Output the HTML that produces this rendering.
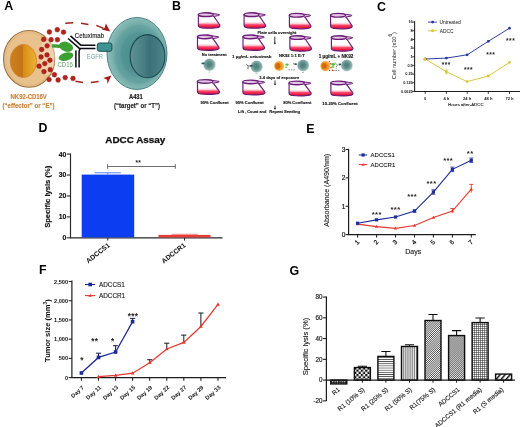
<!DOCTYPE html>
<html lang="en">
<head>
<meta charset="utf-8">
<title>Figure</title>
<style>
html,body{margin:0;padding:0;background:#fff;}
body{width:520px;height:427px;overflow:hidden;}
svg{display:block;font-family:"Liberation Sans", sans-serif;}
</style>
</head>
<body>
<svg width="520" height="427" viewBox="0 0 520 427" style='font-family:"Liberation Sans", sans-serif'>
<rect width="520" height="427" fill="#ffffff"/>
<g filter="url(#soft)">
<defs>
<filter id="soft" x="0" y="0" width="520" height="427" filterUnits="userSpaceOnUse"><feGaussianBlur stdDeviation="0.35"/></filter>
<radialGradient id="nkg" cx="50%" cy="50%" r="50%"><stop offset="0" stop-color="#f0cc98"/><stop offset="0.8" stop-color="#ecc48e"/><stop offset="1" stop-color="#dfb07a"/></radialGradient>
<linearGradient id="nucg" x1="0" x2="1" y1="0" y2="0"><stop offset="0" stop-color="#cc8022"/><stop offset="0.5" stop-color="#c47216"/><stop offset="0.5" stop-color="#d88c18"/><stop offset="1" stop-color="#ecb430"/></linearGradient>
<radialGradient id="tg" cx="53%" cy="51%" r="52%"><stop offset="0" stop-color="#4b8d8e"/><stop offset="0.55" stop-color="#529494"/><stop offset="0.62" stop-color="#5e9d9c"/><stop offset="0.76" stop-color="#66a3a1"/><stop offset="0.82" stop-color="#76aeaa"/><stop offset="0.93" stop-color="#84b7b2"/><stop offset="1" stop-color="#8dbdb8"/></radialGradient>
<linearGradient id="tn" x1="0" x2="1" y1="0" y2="0"><stop offset="0" stop-color="#5d9295"/><stop offset="0.35" stop-color="#4b8186"/><stop offset="0.55" stop-color="#3c7078"/><stop offset="0.78" stop-color="#447a80"/><stop offset="1" stop-color="#50878b"/></linearGradient>
<linearGradient id="flg" x1="0" x2="0" y1="0" y2="1"><stop offset="0" stop-color="#ffffff"/><stop offset="0.5" stop-color="#ffffff"/><stop offset="0.62" stop-color="#fbd3d9"/><stop offset="0.74" stop-color="#f8486c"/><stop offset="0.87" stop-color="#f01c46"/><stop offset="1" stop-color="#c21038"/></linearGradient>
<radialGradient id="smt" cx="47%" cy="47%" r="53%"><stop offset="0" stop-color="#4a7977"/><stop offset="0.45" stop-color="#5e8e8b"/><stop offset="0.8" stop-color="#8ab0ab"/><stop offset="1" stop-color="#c2d8d4"/></radialGradient>
<radialGradient id="smo" cx="45%" cy="50%" r="53%"><stop offset="0" stop-color="#e07e10"/><stop offset="0.6" stop-color="#ee9a28"/><stop offset="0.85" stop-color="#f2b050"/><stop offset="1" stop-color="#f8d8a0"/></radialGradient>
<pattern id="p1" width="2.4" height="2.4" patternUnits="userSpaceOnUse" x="0.3" y="0.75"><rect width="2.4" height="2.4" fill="#161616"/><rect x="0.5" y="0.5" width="1.45" height="1.45" rx="0.5" fill="#fff"/></pattern>
<pattern id="p2" width="4.4" height="4.4" patternUnits="userSpaceOnUse"><rect width="4.4" height="4.4" fill="#fff"/><rect width="2.2" height="2.2" fill="#111"/><rect x="2.2" y="2.2" width="2.2" height="2.2" fill="#111"/></pattern>
<pattern id="p3" width="3" height="2.15" patternUnits="userSpaceOnUse"><rect width="3" height="2.15" fill="#fff"/><rect width="3" height="0.75" fill="#444"/></pattern>
<pattern id="p4" width="1.9" height="3" patternUnits="userSpaceOnUse"><rect width="1.9" height="3" fill="#fff"/><rect width="0.75" height="3" fill="#444"/></pattern>
<pattern id="p5" width="1.35" height="1.35" patternUnits="userSpaceOnUse" patternTransform="rotate(-45)"><rect width="1.35" height="1.35" fill="#fff"/><rect width="1.35" height="0.54" fill="#222"/></pattern>
<pattern id="p6" width="1.4" height="1.4" patternUnits="userSpaceOnUse" patternTransform="rotate(45)"><rect width="1.4" height="1.4" fill="#fff"/><rect width="1.4" height="0.35" fill="#222"/><rect width="0.35" height="1.4" fill="#222"/></pattern>
<pattern id="p7" width="2" height="2" patternUnits="userSpaceOnUse"><rect width="2" height="2" fill="#fff"/><rect width="2" height="0.5" fill="#222"/><rect width="0.5" height="2" fill="#222"/></pattern>
<pattern id="p8" width="3.8" height="3.8" patternUnits="userSpaceOnUse" patternTransform="rotate(40)"><rect width="3.8" height="3.8" fill="#fff"/><rect width="1.5" height="3.8" fill="#111"/></pattern>
</defs>
<g id="panelA">
<text x="4.2" y="10.3" font-size="12.4" font-weight="bold" text-anchor="start" fill="#000">A</text>
<ellipse cx="29.1" cy="58.9" rx="25.6" ry="28.4" fill="#e8c18d" stroke="#9c7040" stroke-width="1.1"/>
<ellipse cx="29.1" cy="58.9" rx="23.8" ry="26.6" fill="none" stroke="#e3b981" stroke-width="1.4"/>
<ellipse cx="47.5" cy="56" rx="7.5" ry="19" fill="#f5e0c6" opacity="0.6"/>
<ellipse cx="23.4" cy="61" rx="13.2" ry="16.6" fill="url(#nucg)" stroke="#cf8430" stroke-width="0.8"/>
<circle cx="49.4" cy="32" r="2.4" fill="#b3241a" stroke="#93190f" stroke-width="0.4"/>
<circle cx="57.3" cy="29.7" r="2.4" fill="#b3241a" stroke="#93190f" stroke-width="0.4"/>
<circle cx="63.5" cy="32.2" r="2.4" fill="#b3241a" stroke="#93190f" stroke-width="0.4"/>
<circle cx="43.7" cy="39.4" r="2.4" fill="#b3241a" stroke="#93190f" stroke-width="0.4"/>
<circle cx="51.1" cy="39.7" r="2.4" fill="#b3241a" stroke="#93190f" stroke-width="0.4"/>
<circle cx="57.4" cy="39.7" r="2.4" fill="#b3241a" stroke="#93190f" stroke-width="0.4"/>
<circle cx="47.1" cy="45.8" r="2.4" fill="#b3241a" stroke="#93190f" stroke-width="0.4"/>
<circle cx="41.7" cy="49.5" r="2.4" fill="#b3241a" stroke="#93190f" stroke-width="0.4"/>
<circle cx="47" cy="54.9" r="2.4" fill="#b3241a" stroke="#93190f" stroke-width="0.4"/>
<circle cx="41.1" cy="57" r="2.4" fill="#b3241a" stroke="#93190f" stroke-width="0.4"/>
<circle cx="49.9" cy="60.25" r="2.4" fill="#b3241a" stroke="#93190f" stroke-width="0.4"/>
<circle cx="44.75" cy="63.6" r="2.4" fill="#b3241a" stroke="#93190f" stroke-width="0.4"/>
<circle cx="39.1" cy="66.2" r="2.4" fill="#b3241a" stroke="#93190f" stroke-width="0.4"/>
<circle cx="50.25" cy="69.7" r="2.4" fill="#b3241a" stroke="#93190f" stroke-width="0.4"/>
<circle cx="44" cy="71.6" r="2.4" fill="#b3241a" stroke="#93190f" stroke-width="0.4"/>
<circle cx="54.4" cy="74.75" r="2.4" fill="#b3241a" stroke="#93190f" stroke-width="0.4"/>
<circle cx="49.1" cy="79.6" r="2.4" fill="#b3241a" stroke="#93190f" stroke-width="0.4"/>
<circle cx="58.1" cy="80" r="2.4" fill="#b3241a" stroke="#93190f" stroke-width="0.4"/>
<circle cx="65.2" cy="77.6" r="2.4" fill="#b3241a" stroke="#93190f" stroke-width="0.4"/>
<circle cx="73" cy="78.4" r="2.4" fill="#b3241a" stroke="#93190f" stroke-width="0.4"/>
<g fill="none" stroke="#a5201b" stroke-width="1.5">
<path d="M65.3,23.2 L73.2,22.7 M81,23.2 L88.4,24.4 M96.3,25.4 L103.6,28.4"/>
<path d="M75.5,81.2 L83,82.4 M90.8,82.4 L98.6,81.6"/>
</g>
<path d="M105.9,23.4 L110.2,31.5 L101.4,29.4 L104.6,27.9 Z" fill="#a31d1f"/>
<path d="M111.3,75.4 L107.5,84 L107.1,79.7 L103.3,77.9 Z" fill="#a31d1f"/>
<path d="M52,44.2 L59.5,44.6 L60.5,47.9 L52,47.6 Z" fill="#3da032"/>
<ellipse cx="66.1" cy="46.7" rx="7.2" ry="4.8" transform="rotate(18 66.1 46.7)" fill="#3da032"/>
<ellipse cx="66" cy="56.6" rx="7.5" ry="4.0" transform="rotate(-14 66 56.6)" fill="#3da032"/>
<text x="57.4" y="67.4" font-size="7.0" text-anchor="start" fill="#56a068" textLength="15.5" lengthAdjust="spacingAndGlyphs">CD16</text>
<g fill="none" stroke="#0c0c18" stroke-width="1.55" stroke-linecap="butt" stroke-linejoin="miter">
<path d="M70.5,35.9 L80.8,45.2 L95.4,45.2"/>
<path d="M68.1,38.5 L79.4,48.4 L95.4,48.4"/>
<path d="M75.9,50.6 V67.4"/>
<path d="M79.1,67.4 V51.4 Q79.1,49.6 80.4,48.8"/>
</g>
<text x="74.8" y="38.4" font-size="7.3" text-anchor="start" fill="#151515" textLength="29.3" lengthAdjust="spacingAndGlyphs" stroke="#151515" stroke-width="0.12">Cetuximab</text>
<text x="86.8" y="59.4" font-size="6.9" text-anchor="start" fill="#7ba8a5" textLength="16.2" lengthAdjust="spacingAndGlyphs">EGFR</text>
<ellipse cx="137" cy="53.5" rx="30" ry="36" fill="url(#tg)" stroke="#4a8385" stroke-width="1"/>
<ellipse cx="147.5" cy="56.2" rx="17.4" ry="21.6" fill="url(#tn)" stroke="#1d4850" stroke-width="1.1"/>
<rect x="97.3" y="43.0" width="14.6" height="8.3" rx="2" fill="#3e9392" stroke="#1d5052" stroke-width="1"/>
<text x="28.7" y="99.4" font-size="6.6" font-weight="bold" text-anchor="middle" fill="#cd7f35" stroke="#cf8238" stroke-width="0.15" textLength="36.2" lengthAdjust="spacingAndGlyphs">NK92-CD16V</text>
<text x="28.5" y="108.0" font-size="6.6" font-weight="bold" text-anchor="middle" fill="#cd7f35" stroke="#cf8238" stroke-width="0.15" textLength="52" lengthAdjust="spacingAndGlyphs">(“effector” or “E”)</text>
<text x="135.9" y="99.3" font-size="6.6" font-weight="bold" text-anchor="middle" fill="#222" stroke="#222" stroke-width="0.15" textLength="13.9" lengthAdjust="spacingAndGlyphs">A431</text>
<text x="137.0" y="108.3" font-size="6.6" font-weight="bold" text-anchor="middle" fill="#222" stroke="#222" stroke-width="0.15" textLength="45.8" lengthAdjust="spacingAndGlyphs">(“target” or “T”)</text>
</g>
<g id="panelB">
<text x="171.9" y="10.2" font-size="12.4" font-weight="bold" text-anchor="start" fill="#000">B</text>
<g transform="translate(197.9 12.4) scale(0.965 1.0)">
<path d="M0.5,2.2 L0.5,13 Q0.6,15 4,15.4 Q11.5,16.3 19.4,15.3 Q23.8,14.6 22.7,12.6 L16,3.2 Z" fill="url(#flg)" stroke="#6c1f78" stroke-width="1.2" stroke-linejoin="round"/>
<path d="M10.5,0.5 L22.2,2.1 Q23,2.8 21.6,3.1 L15.6,4.2" fill="#e2c2e3" stroke="#6c1f78" stroke-width="1.0" stroke-linejoin="round"/>
<ellipse cx="8.2" cy="2.25" rx="7.8" ry="1.85" fill="#e3c4e4" stroke="#6c1f78" stroke-width="1.4"/>
</g>
<g transform="translate(243.6 12.4) scale(0.965 1.0)">
<path d="M0.5,2.2 L0.5,13 Q0.6,15 4,15.4 Q11.5,16.3 19.4,15.3 Q23.8,14.6 22.7,12.6 L16,3.2 Z" fill="url(#flg)" stroke="#6c1f78" stroke-width="1.2" stroke-linejoin="round"/>
<path d="M10.5,0.5 L22.2,2.1 Q23,2.8 21.6,3.1 L15.6,4.2" fill="#e2c2e3" stroke="#6c1f78" stroke-width="1.0" stroke-linejoin="round"/>
<ellipse cx="8.2" cy="2.25" rx="7.8" ry="1.85" fill="#e3c4e4" stroke="#6c1f78" stroke-width="1.4"/>
</g>
<g transform="translate(288.9 13.0) scale(0.965 1.0)">
<path d="M0.5,2.2 L0.5,13 Q0.6,15 4,15.4 Q11.5,16.3 19.4,15.3 Q23.8,14.6 22.7,12.6 L16,3.2 Z" fill="url(#flg)" stroke="#6c1f78" stroke-width="1.2" stroke-linejoin="round"/>
<path d="M10.5,0.5 L22.2,2.1 Q23,2.8 21.6,3.1 L15.6,4.2" fill="#e2c2e3" stroke="#6c1f78" stroke-width="1.0" stroke-linejoin="round"/>
<ellipse cx="8.2" cy="2.25" rx="7.8" ry="1.85" fill="#e3c4e4" stroke="#6c1f78" stroke-width="1.4"/>
</g>
<g transform="translate(330.1 13.0) scale(0.965 1.0)">
<path d="M0.5,2.2 L0.5,13 Q0.6,15 4,15.4 Q11.5,16.3 19.4,15.3 Q23.8,14.6 22.7,12.6 L16,3.2 Z" fill="url(#flg)" stroke="#6c1f78" stroke-width="1.2" stroke-linejoin="round"/>
<path d="M10.5,0.5 L22.2,2.1 Q23,2.8 21.6,3.1 L15.6,4.2" fill="#e2c2e3" stroke="#6c1f78" stroke-width="1.0" stroke-linejoin="round"/>
<ellipse cx="8.2" cy="2.25" rx="7.8" ry="1.85" fill="#e3c4e4" stroke="#6c1f78" stroke-width="1.4"/>
</g>
<g transform="translate(197.0 34.6) scale(0.965 1.0)">
<path d="M0.5,2.2 L0.5,13 Q0.6,15 4,15.4 Q11.5,16.3 19.4,15.3 Q23.8,14.6 22.7,12.6 L16,3.2 Z" fill="url(#flg)" stroke="#6c1f78" stroke-width="1.2" stroke-linejoin="round"/>
<path d="M10.5,0.5 L22.2,2.1 Q23,2.8 21.6,3.1 L15.6,4.2" fill="#e2c2e3" stroke="#6c1f78" stroke-width="1.0" stroke-linejoin="round"/>
<ellipse cx="8.2" cy="2.25" rx="7.8" ry="1.85" fill="#e3c4e4" stroke="#6c1f78" stroke-width="1.4"/>
</g>
<g transform="translate(242.5 34.6) scale(0.965 1.0)">
<path d="M0.5,2.2 L0.5,13 Q0.6,15 4,15.4 Q11.5,16.3 19.4,15.3 Q23.8,14.6 22.7,12.6 L16,3.2 Z" fill="url(#flg)" stroke="#6c1f78" stroke-width="1.2" stroke-linejoin="round"/>
<path d="M10.5,0.5 L22.2,2.1 Q23,2.8 21.6,3.1 L15.6,4.2" fill="#e2c2e3" stroke="#6c1f78" stroke-width="1.0" stroke-linejoin="round"/>
<ellipse cx="8.2" cy="2.25" rx="7.8" ry="1.85" fill="#e3c4e4" stroke="#6c1f78" stroke-width="1.4"/>
</g>
<g transform="translate(289.4 35.3) scale(0.965 1.0)">
<path d="M0.5,2.2 L0.5,13 Q0.6,15 4,15.4 Q11.5,16.3 19.4,15.3 Q23.8,14.6 22.7,12.6 L16,3.2 Z" fill="url(#flg)" stroke="#6c1f78" stroke-width="1.2" stroke-linejoin="round"/>
<path d="M10.5,0.5 L22.2,2.1 Q23,2.8 21.6,3.1 L15.6,4.2" fill="#e2c2e3" stroke="#6c1f78" stroke-width="1.0" stroke-linejoin="round"/>
<ellipse cx="8.2" cy="2.25" rx="7.8" ry="1.85" fill="#e3c4e4" stroke="#6c1f78" stroke-width="1.4"/>
</g>
<g transform="translate(330.9 35.3) scale(0.965 1.0)">
<path d="M0.5,2.2 L0.5,13 Q0.6,15 4,15.4 Q11.5,16.3 19.4,15.3 Q23.8,14.6 22.7,12.6 L16,3.2 Z" fill="url(#flg)" stroke="#6c1f78" stroke-width="1.2" stroke-linejoin="round"/>
<path d="M10.5,0.5 L22.2,2.1 Q23,2.8 21.6,3.1 L15.6,4.2" fill="#e2c2e3" stroke="#6c1f78" stroke-width="1.0" stroke-linejoin="round"/>
<ellipse cx="8.2" cy="2.25" rx="7.8" ry="1.85" fill="#e3c4e4" stroke="#6c1f78" stroke-width="1.4"/>
</g>
<g transform="translate(197.0 79.3) scale(0.985 0.955)">
<path d="M0.5,2.2 L0.5,13 Q0.6,15 4,15.4 Q11.5,16.3 19.4,15.3 Q23.8,14.6 22.7,12.6 L16,3.2 Z" fill="url(#flg)" stroke="#6c1f78" stroke-width="1.2" stroke-linejoin="round"/>
<path d="M10.5,0.5 L22.2,2.1 Q23,2.8 21.6,3.1 L15.6,4.2" fill="#e2c2e3" stroke="#6c1f78" stroke-width="1.0" stroke-linejoin="round"/>
<ellipse cx="8.2" cy="2.25" rx="7.8" ry="1.85" fill="#e3c4e4" stroke="#6c1f78" stroke-width="1.4"/>
</g>
<g transform="translate(242.4 79.8) scale(0.985 0.955)">
<path d="M0.5,2.2 L0.5,13 Q0.6,15 4,15.4 Q11.5,16.3 19.4,15.3 Q23.8,14.6 22.7,12.6 L16,3.2 Z" fill="url(#flg)" stroke="#6c1f78" stroke-width="1.2" stroke-linejoin="round"/>
<path d="M10.5,0.5 L22.2,2.1 Q23,2.8 21.6,3.1 L15.6,4.2" fill="#e2c2e3" stroke="#6c1f78" stroke-width="1.0" stroke-linejoin="round"/>
<ellipse cx="8.2" cy="2.25" rx="7.8" ry="1.85" fill="#e3c4e4" stroke="#6c1f78" stroke-width="1.4"/>
</g>
<g transform="translate(288.6 80.8) scale(0.985 0.955)">
<path d="M0.5,2.2 L0.5,13 Q0.6,15 4,15.4 Q11.5,16.3 19.4,15.3 Q23.8,14.6 22.7,12.6 L16,3.2 Z" fill="url(#flg)" stroke="#6c1f78" stroke-width="1.2" stroke-linejoin="round"/>
<path d="M10.5,0.5 L22.2,2.1 Q23,2.8 21.6,3.1 L15.6,4.2" fill="#e2c2e3" stroke="#6c1f78" stroke-width="1.0" stroke-linejoin="round"/>
<ellipse cx="8.2" cy="2.25" rx="7.8" ry="1.85" fill="#e3c4e4" stroke="#6c1f78" stroke-width="1.4"/>
</g>
<g transform="translate(330.4 80.8) scale(0.985 0.955)">
<path d="M0.5,2.2 L0.5,13 Q0.6,15 4,15.4 Q11.5,16.3 19.4,15.3 Q23.8,14.6 22.7,12.6 L16,3.2 Z" fill="url(#flg)" stroke="#6c1f78" stroke-width="1.2" stroke-linejoin="round"/>
<path d="M10.5,0.5 L22.2,2.1 Q23,2.8 21.6,3.1 L15.6,4.2" fill="#e2c2e3" stroke="#6c1f78" stroke-width="1.0" stroke-linejoin="round"/>
<ellipse cx="8.2" cy="2.25" rx="7.8" ry="1.85" fill="#e3c4e4" stroke="#6c1f78" stroke-width="1.4"/>
</g>
<text x="276.9" y="33.6" font-size="4.0" font-weight="bold" text-anchor="middle" fill="#161616" stroke="#161616" stroke-width="0.12">Plate cells overnight</text>
<path d="M274.8,36.6 V43.4" stroke="#2a2a2a" stroke-width="0.95"/><path d="M273.5,42.800000000000004 L274.8,44.6 L276.1,42.800000000000004 Z" fill="#2a2a2a"/>
<text x="214.2" y="55.5" font-size="4.0" font-weight="bold" text-anchor="middle" fill="#161616" stroke="#161616" stroke-width="0.12">No treatment</text>
<text x="251.7" y="57.5" font-size="4.36" font-weight="bold" text-anchor="middle" fill="#161616" stroke="#161616" stroke-width="0.12">1 µg/mL cetuximab</text>
<text x="291.8" y="57.0" font-size="4.2" font-weight="bold" text-anchor="middle" fill="#161616" stroke="#161616" stroke-width="0.12">NK92 1:1 E:T</text>
<text x="336.0" y="57.5" font-size="4.65" font-weight="bold" text-anchor="middle" fill="#161616" stroke="#161616" stroke-width="0.12">1 µg/mL + NK92</text>
<circle cx="209.5" cy="64.8" r="6.2" fill="url(#smt)"/>
<rect x="201.6" y="62.6" width="2.8" height="1.6" fill="#23524f"/>
<rect x="208.4" y="71.8" width="2" height="0.5" fill="#778"/>
<circle cx="256.7" cy="66.7" r="6.1" fill="url(#smt)"/>
<path d="M246.4,64.2 L248.2,66 L251.2,66 M248,66.4 L248,69.2" stroke="#222" stroke-width="0.7" fill="none"/>
<rect x="250.2" y="65" width="2.4" height="1.5" fill="#23524f"/>
<rect x="255.4" y="73.6" width="2" height="0.5" fill="#778"/>
<circle cx="279.2" cy="66.0" r="5.1" fill="url(#smo)"/>
<ellipse cx="277.9" cy="66.0" rx="2.55" ry="2.9579999999999997" fill="#cc6408" opacity="0.8"/>
<ellipse cx="287" cy="64.6" rx="1.6" ry="1.2" fill="#4fc030"/><ellipse cx="286.2" cy="67.2" rx="1.2" ry="0.8" fill="#6cc850"/>
<path d="M288.4,69.8 H296 M293,63.8 H296" stroke="#333" stroke-width="0.6" stroke-dasharray="1.4 1.2"/>
<rect x="294.4" y="63.4" width="2.4" height="1.5" fill="#23524f"/>
<circle cx="303.2" cy="65.5" r="6.0" fill="url(#smt)"/>
<rect x="302" y="72.4" width="2" height="0.5" fill="#778"/>
<circle cx="325.5" cy="66.0" r="5.2" fill="url(#smo)"/>
<ellipse cx="324.2" cy="66.0" rx="2.6" ry="3.016" fill="#cc6408" opacity="0.8"/>
<circle cx="329.4" cy="61.6" r="0.7" fill="#b4271b"/>
<circle cx="330.8" cy="63.8" r="0.7" fill="#b4271b"/>
<circle cx="331" cy="67.8" r="0.7" fill="#b4271b"/>
<circle cx="329.6" cy="70.4" r="0.7" fill="#b4271b"/>
<circle cx="332.4" cy="70.2" r="0.7" fill="#b4271b"/>
<ellipse cx="333.2" cy="64.4" rx="1.8" ry="1.3" fill="#4fc030"/><ellipse cx="332.8" cy="67" rx="1.4" ry="0.9" fill="#6cc850"/>
<path d="M335,62.6 L337,65 L340.6,65 M336.6,65.6 V68.6 M333,70.4 H340" stroke="#333" stroke-width="0.6" fill="none" stroke-dasharray="1.6 0.8"/>
<rect x="338.8" y="63.6" width="2.4" height="1.5" fill="#23524f"/>
<circle cx="346.9" cy="65.5" r="5.9" fill="url(#smt)"/>
<text x="279.2" y="78.9" font-size="4.02" font-weight="bold" text-anchor="middle" fill="#161616" stroke="#161616" stroke-width="0.12">3-4 days of exposure</text>
<path d="M275.0,80.4 V84.39999999999999" stroke="#2a2a2a" stroke-width="0.95"/><path d="M273.7,83.8 L275.0,85.6 L276.3,83.8 Z" fill="#2a2a2a"/>
<text x="214.6" y="103.7" font-size="4.05" font-weight="bold" text-anchor="middle" fill="#161616" stroke="#161616" stroke-width="0.12">90% Confluent</text>
<text x="249.6" y="103.7" font-size="4.05" font-weight="bold" text-anchor="middle" fill="#161616" stroke="#161616" stroke-width="0.12">90% Confluent</text>
<text x="297.2" y="103.8" font-size="4.05" font-weight="bold" text-anchor="middle" fill="#161616" stroke="#161616" stroke-width="0.12">80% Confluent</text>
<text x="340.0" y="104.5" font-size="4.22" font-weight="bold" text-anchor="middle" fill="#161616" stroke="#161616" stroke-width="0.12">10-20% Confluent</text>
<path d="M275.0,105.6 V108.6" stroke="#2a2a2a" stroke-width="0.95"/><path d="M273.7,108.0 L275.0,109.8 L276.3,108.0 Z" fill="#2a2a2a"/>
<text x="238.1" y="113.2" font-size="3.85" font-weight="bold" text-anchor="start" fill="#161616" stroke="#161616" stroke-width="0.12">Lift , Count and</text>
<text x="269.2" y="113.2" font-size="4.1" font-weight="bold" text-anchor="start" fill="#161616" stroke="#161616" stroke-width="0.12">Repeat Seeding</text>
</g>
<g id="panelC">
<text x="377.1" y="10.5" font-size="12.4" font-weight="bold" text-anchor="start" fill="#000">C</text>
<path d="M414.6,21.2 V91.5 H520" fill="none" stroke="#1e1e1e" stroke-width="1.05"/>
<path d="M412.20000000000005,22.10 H414.6" stroke="#1e1e1e" stroke-width="0.9"/>
<text x="412.70000000000005" y="23.45" font-size="3.8" font-weight="bold" text-anchor="end" fill="#1a1a1a">16</text>
<path d="M412.20000000000005,30.76 H414.6" stroke="#1e1e1e" stroke-width="0.9"/>
<text x="412.70000000000005" y="32.11" font-size="3.8" font-weight="bold" text-anchor="end" fill="#1a1a1a">8</text>
<path d="M412.20000000000005,39.42 H414.6" stroke="#1e1e1e" stroke-width="0.9"/>
<text x="412.70000000000005" y="40.77" font-size="3.8" font-weight="bold" text-anchor="end" fill="#1a1a1a">4</text>
<path d="M412.20000000000005,48.08 H414.6" stroke="#1e1e1e" stroke-width="0.9"/>
<text x="412.70000000000005" y="49.43" font-size="3.8" font-weight="bold" text-anchor="end" fill="#1a1a1a">2</text>
<path d="M412.20000000000005,56.74 H414.6" stroke="#1e1e1e" stroke-width="0.9"/>
<text x="412.70000000000005" y="58.09" font-size="3.8" font-weight="bold" text-anchor="end" fill="#1a1a1a">1</text>
<path d="M412.20000000000005,65.40 H414.6" stroke="#1e1e1e" stroke-width="0.9"/>
<text x="412.70000000000005" y="66.75" font-size="3.8" font-weight="bold" text-anchor="end" fill="#1a1a1a">0.5</text>
<path d="M412.20000000000005,74.06 H414.6" stroke="#1e1e1e" stroke-width="0.9"/>
<text x="412.70000000000005" y="75.41" font-size="3.8" font-weight="bold" text-anchor="end" fill="#1a1a1a">0.25</text>
<path d="M412.20000000000005,82.72 H414.6" stroke="#1e1e1e" stroke-width="0.9"/>
<text x="412.70000000000005" y="84.07" font-size="3.8" font-weight="bold" text-anchor="end" fill="#1a1a1a">0.125</text>
<path d="M412.20000000000005,91.38 H414.6" stroke="#1e1e1e" stroke-width="0.9"/>
<text x="412.70000000000005" y="92.73" font-size="3.8" font-weight="bold" text-anchor="end" fill="#1a1a1a">0.0625</text>
<path d="M425.2,91.5 V93.8" stroke="#1e1e1e" stroke-width="0.9"/>
<text x="425.2" y="99.6" font-size="4.1" font-weight="bold" text-anchor="middle" fill="#1a1a1a">0</text>
<path d="M446.4,91.5 V93.8" stroke="#1e1e1e" stroke-width="0.9"/>
<text x="446.4" y="99.6" font-size="4.1" font-weight="bold" text-anchor="middle" fill="#1a1a1a">4 h</text>
<path d="M467.2,91.5 V93.8" stroke="#1e1e1e" stroke-width="0.9"/>
<text x="467.2" y="99.6" font-size="4.1" font-weight="bold" text-anchor="middle" fill="#1a1a1a">24 h</text>
<path d="M488.3,91.5 V93.8" stroke="#1e1e1e" stroke-width="0.9"/>
<text x="488.3" y="99.6" font-size="4.1" font-weight="bold" text-anchor="middle" fill="#1a1a1a">48 h</text>
<path d="M509.5,91.5 V93.8" stroke="#1e1e1e" stroke-width="0.9"/>
<text x="509.5" y="99.6" font-size="4.1" font-weight="bold" text-anchor="middle" fill="#1a1a1a">72 h</text>
<text x="465.8" y="106.0" font-size="4.4" text-anchor="middle" fill="#1a1a1a" stroke="#1a1a1a" stroke-width="0.1">Hours after-ADCC</text>
<text font-size="5.6" fill="#1a1a1a" text-anchor="middle" transform="translate(396.4 55.6) rotate(-90)">Cell number (x10<tspan dy="-4" font-size="4.8">6</tspan><tspan dy="4">)</tspan></text>
<polyline points="425.2,59.0 446.4,71.8 467.2,81.6 488.3,76.0 509.5,62.4" fill="none" stroke="#d9c73c" stroke-width="1.0"/>
<path d="M446.4,69.8 V73.8 M445.2,69.8 H447.6 M445.2,73.8 H447.6" stroke="#d9c73c" stroke-width="0.8"/>
<circle cx="425.2" cy="59.0" r="1.45" fill="#d9c73c"/>
<circle cx="446.4" cy="71.8" r="1.45" fill="#d9c73c"/>
<circle cx="467.2" cy="81.6" r="1.45" fill="#d9c73c"/>
<circle cx="488.3" cy="76.0" r="1.45" fill="#d9c73c"/>
<circle cx="509.5" cy="62.4" r="1.45" fill="#d9c73c"/>
<polyline points="425.2,59.0 446.4,58.1 467.2,54.8 488.3,41.3 509.5,28.2" fill="none" stroke="#27339a" stroke-width="0.95"/>
<circle cx="425.2" cy="59.0" r="1.35" fill="#27339a"/>
<circle cx="446.4" cy="58.1" r="1.35" fill="#27339a"/>
<circle cx="467.2" cy="54.8" r="1.35" fill="#27339a"/>
<circle cx="488.3" cy="41.3" r="1.35" fill="#27339a"/>
<circle cx="509.5" cy="28.2" r="1.35" fill="#27339a"/>
<circle cx="424.7" cy="59.2" r="1.45" fill="#d9c73c"/>
<path d="M428,22.1 H436.8" stroke="#27339a" stroke-width="0.9"/><circle cx="432.6" cy="22.1" r="1.35" fill="#27339a"/>
<path d="M428,30.8 H436.8" stroke="#d9c73c" stroke-width="1"/><circle cx="432.6" cy="30.8" r="1.45" fill="#d9c73c"/>
<text x="439.5" y="23.8" font-size="4.85" text-anchor="start" fill="#111">Untreated</text>
<text x="439.7" y="32.5" font-size="4.85" text-anchor="start" fill="#111">ADCC</text>
<text x="446.25" y="67.14" font-size="6.5" font-weight="bold" text-anchor="middle" fill="#1c1c1c" letter-spacing="0.5">***</text>
<text x="468.55" y="72.04" font-size="6.5" font-weight="bold" text-anchor="middle" fill="#1c1c1c" letter-spacing="0.5">***</text>
<text x="490.75" y="57.34" font-size="6.5" font-weight="bold" text-anchor="middle" fill="#1c1c1c" letter-spacing="0.5">***</text>
<text x="510.65" y="43.14" font-size="6.5" font-weight="bold" text-anchor="middle" fill="#1c1c1c" letter-spacing="0.5">***</text>
</g>
<g id="panelD">
<text x="38.5" y="132.2" font-size="12.4" font-weight="bold" text-anchor="start" fill="#000">D</text>
<text x="135.3" y="142.7" font-size="8.3" font-weight="bold" text-anchor="middle" fill="#111" textLength="60" lengthAdjust="spacingAndGlyphs" stroke="#111" stroke-width="0.25">ADCC Assay</text>
<path d="M70.5,153.6 V237.8 H222.6" fill="none" stroke="#2a2a2a" stroke-width="1.2"/>
<path d="M66.7,154.10 H70.5" stroke="#2a2a2a" stroke-width="1.1"/>
<text x="66.3" y="156.55" font-size="6.8" font-weight="bold" text-anchor="end" fill="#111" stroke="#111" stroke-width="0.15">40</text>
<path d="M66.7,175.03 H70.5" stroke="#2a2a2a" stroke-width="1.1"/>
<text x="66.3" y="177.48" font-size="6.8" font-weight="bold" text-anchor="end" fill="#111" stroke="#111" stroke-width="0.15">30</text>
<path d="M66.7,195.96 H70.5" stroke="#2a2a2a" stroke-width="1.1"/>
<text x="66.3" y="198.41" font-size="6.8" font-weight="bold" text-anchor="end" fill="#111" stroke="#111" stroke-width="0.15">20</text>
<path d="M66.7,216.89 H70.5" stroke="#2a2a2a" stroke-width="1.1"/>
<text x="66.3" y="219.34" font-size="6.8" font-weight="bold" text-anchor="end" fill="#111" stroke="#111" stroke-width="0.15">10</text>
<path d="M66.7,237.82 H70.5" stroke="#2a2a2a" stroke-width="1.1"/>
<text x="66.3" y="240.27" font-size="6.8" font-weight="bold" text-anchor="end" fill="#111" stroke="#111" stroke-width="0.15">0</text>
<text x="49.8" y="196.8" font-size="7.6" font-weight="bold" text-anchor="middle" fill="#111" transform="rotate(-90 49.8 196.8)" stroke="#111" stroke-width="0.15">Specific lysis (%)</text>
<rect x="81.7" y="174.6" width="52.5" height="62.8" fill="#0d3cf0"/>
<path d="M107.8,172.8 V174.6 M94.6,172.8 H120.8" stroke="#4a72f2" stroke-width="0.9"/>
<rect x="158.5" y="234.9" width="52" height="2.5" fill="#ea3a34"/>
<path d="M171.6,234.3 H197.8" stroke="#ee6a62" stroke-width="0.8"/>
<path d="M107.8,237.8 V240.6 M184.5,237.8 V240.6" stroke="#2a2a2a" stroke-width="1"/>
<path d="M107.6,164.2 V168.8 M107.6,166.5 H175.3 M175.3,164.2 V168.8" stroke="#4a4a4a" stroke-width="0.8" fill="none"/>
<text x="138.35" y="164.94" font-size="6.5" font-weight="bold" text-anchor="middle" fill="#1c1c1c" letter-spacing="0.3">**</text>
<text x="110.4" y="246.2" font-size="6.8" font-weight="bold" text-anchor="end" fill="#111" transform="rotate(-38 110.4 246.2)">ADCCS1</text>
<text x="186.2" y="246.2" font-size="6.8" font-weight="bold" text-anchor="end" fill="#111" transform="rotate(-38 186.2 246.2)">ADCCR1</text>
</g>
<g id="panelE">
<text x="306.3" y="132.5" font-size="12.4" font-weight="bold" text-anchor="start" fill="#000">E</text>
<path d="M348.6,148.7 V234.6 H475.8" fill="none" stroke="#1e1e1e" stroke-width="1.2"/>
<path d="M345.6,149.50 H348.6" stroke="#1e1e1e" stroke-width="1.05"/>
<text x="345.3" y="151.85" font-size="6.6" text-anchor="end" fill="#111" stroke="#111" stroke-width="0.18">3</text>
<path d="M345.6,177.87 H348.6" stroke="#1e1e1e" stroke-width="1.05"/>
<text x="345.3" y="180.22" font-size="6.6" text-anchor="end" fill="#111" stroke="#111" stroke-width="0.18">2</text>
<path d="M345.6,206.24 H348.6" stroke="#1e1e1e" stroke-width="1.05"/>
<text x="345.3" y="208.59" font-size="6.6" text-anchor="end" fill="#111" stroke="#111" stroke-width="0.18">1</text>
<path d="M345.6,234.61 H348.6" stroke="#1e1e1e" stroke-width="1.05"/>
<text x="345.3" y="236.96" font-size="6.6" text-anchor="end" fill="#111" stroke="#111" stroke-width="0.18">0</text>
<path d="M357.6,234.6 V237.5" stroke="#1e1e1e" stroke-width="1.05"/>
<text x="356.9" y="244.4" font-size="6.4" text-anchor="middle" fill="#111" stroke="#111" stroke-width="0.2" transform="rotate(-45 356.9 242.1)">1</text>
<path d="M376.6,234.6 V237.5" stroke="#1e1e1e" stroke-width="1.05"/>
<text x="375.9" y="244.4" font-size="6.4" text-anchor="middle" fill="#111" stroke="#111" stroke-width="0.2" transform="rotate(-45 375.9 242.1)">2</text>
<path d="M395.5,234.6 V237.5" stroke="#1e1e1e" stroke-width="1.05"/>
<text x="394.8" y="244.4" font-size="6.4" text-anchor="middle" fill="#111" stroke="#111" stroke-width="0.2" transform="rotate(-45 394.8 242.1)">3</text>
<path d="M414.5,234.6 V237.5" stroke="#1e1e1e" stroke-width="1.05"/>
<text x="413.8" y="244.4" font-size="6.4" text-anchor="middle" fill="#111" stroke="#111" stroke-width="0.2" transform="rotate(-45 413.8 242.1)">4</text>
<path d="M433.4,234.6 V237.5" stroke="#1e1e1e" stroke-width="1.05"/>
<text x="432.7" y="244.4" font-size="6.4" text-anchor="middle" fill="#111" stroke="#111" stroke-width="0.2" transform="rotate(-45 432.7 242.1)">5</text>
<path d="M452.4,234.6 V237.5" stroke="#1e1e1e" stroke-width="1.05"/>
<text x="451.7" y="244.4" font-size="6.4" text-anchor="middle" fill="#111" stroke="#111" stroke-width="0.2" transform="rotate(-45 451.7 242.1)">6</text>
<path d="M471.3,234.6 V237.5" stroke="#1e1e1e" stroke-width="1.05"/>
<text x="470.6" y="244.4" font-size="6.4" text-anchor="middle" fill="#111" stroke="#111" stroke-width="0.2" transform="rotate(-45 470.6 242.1)">7</text>
<text x="413.2" y="253.5" font-size="7" text-anchor="middle" fill="#111" stroke="#111" stroke-width="0.1">Days</text>
<text x="328.7" y="190.3" font-size="7.1" text-anchor="middle" fill="#111" transform="rotate(-90 328.7 190.3)" stroke="#111" stroke-width="0.1">Absorbance (A490/nm)</text>
<polyline points="357.6,224.1 376.6,226.66 395.5,228.36 414.5,225.52 433.4,217.58 452.4,211.05 471.3,189.21" fill="none" stroke="#e8392f" stroke-width="1.15"/>
<path d="M357.6,222.29999999999998 L359.3,225.29999999999998 L355.9,225.29999999999998 Z" fill="#e8392f"/>
<path d="M376.6,224.85999999999999 L378.2,227.85999999999999 L374.9,227.85999999999999 Z" fill="#e8392f"/>
<path d="M395.5,226.56 L397.2,229.56 L393.8,229.56 Z" fill="#e8392f"/>
<path d="M414.5,223.72 L416.2,226.72 L412.8,226.72 Z" fill="#e8392f"/>
<path d="M433.4,215.78 L435.1,218.78 L431.7,218.78 Z" fill="#e8392f"/>
<path d="M452.4,212.84 V208.5 M450.4,208.5 H454.4" stroke="#e8392f" stroke-width="0.9" fill="none"/>
<path d="M452.4,209.25 L454.1,212.25 L450.7,212.25 Z" fill="#e8392f"/>
<path d="M471.3,192.58 V184.39 M469.3,184.39 H473.3" stroke="#e8392f" stroke-width="0.9" fill="none"/>
<path d="M471.3,187.41 L473.0,190.41 L469.6,190.41 Z" fill="#e8392f"/>
<polyline points="357.6,223.25 376.6,219.85 395.5,217.01 414.5,211.05 433.4,192.04 452.4,169.35 471.3,160.27" fill="none" stroke="#1f2e98" stroke-width="1.15"/>
<rect x="356.0" y="221.65" width="3.2" height="3.2" fill="#1f2e98"/>
<rect x="374.9" y="218.25" width="3.2" height="3.2" fill="#1f2e98"/>
<rect x="393.9" y="215.41" width="3.2" height="3.2" fill="#1f2e98"/>
<path d="M414.5,212.19 V209.92 M412.5,209.92 H416.5 M412.5,212.19 H416.5" stroke="#1f2e98" stroke-width="0.75" fill="none"/>
<rect x="412.9" y="209.45000000000002" width="3.2" height="3.2" fill="#1f2e98"/>
<path d="M433.4,194.31 V189.78 M431.4,189.78 H435.4 M431.4,194.31 H435.4" stroke="#1f2e98" stroke-width="0.75" fill="none"/>
<rect x="431.8" y="190.44" width="3.2" height="3.2" fill="#1f2e98"/>
<path d="M452.4,171.62 V167.08 M450.4,167.08 H454.4 M450.4,171.62 H454.4" stroke="#1f2e98" stroke-width="0.75" fill="none"/>
<rect x="450.8" y="167.75" width="3.2" height="3.2" fill="#1f2e98"/>
<path d="M471.3,162.54 V158.0 M469.3,158.0 H473.3 M469.3,162.54 H473.3" stroke="#1f2e98" stroke-width="0.75" fill="none"/>
<rect x="469.7" y="158.67000000000002" width="3.2" height="3.2" fill="#1f2e98"/>
<path d="M358.8,155 H367.3" stroke="#1f2e98" stroke-width="1"/><rect x="361.5" y="153.4" width="3.2" height="3.2" fill="#1f2e98"/>
<path d="M358.8,164.6 H367.3" stroke="#e8392f" stroke-width="1"/><path d="M363.1,162.9 L364.7,165.8 L361.5,165.8 Z" fill="#e8392f"/>
<text x="370.6" y="157.1" font-size="6.0" text-anchor="start" fill="#111" stroke="#111" stroke-width="0.1">ADCCS1</text>
<text x="370.6" y="166.9" font-size="6.0" text-anchor="start" fill="#111" stroke="#111" stroke-width="0.1">ADCCR1</text>
<text x="376.78" y="217.37" font-size="7.6" font-weight="bold" text-anchor="middle" fill="#1c1c1c" letter-spacing="0.35">***</text>
<text x="395.48" y="212.37" font-size="7.6" font-weight="bold" text-anchor="middle" fill="#1c1c1c" letter-spacing="0.35">***</text>
<text x="412.18" y="199.37" font-size="7.6" font-weight="bold" text-anchor="middle" fill="#1c1c1c" letter-spacing="0.35">***</text>
<text x="431.48" y="185.67" font-size="7.6" font-weight="bold" text-anchor="middle" fill="#1c1c1c" letter-spacing="0.35">***</text>
<text x="448.18" y="163.17" font-size="7.6" font-weight="bold" text-anchor="middle" fill="#1c1c1c" letter-spacing="0.35">***</text>
<text x="470.18" y="155.67" font-size="7.6" font-weight="bold" text-anchor="middle" fill="#1c1c1c" letter-spacing="0.35">**</text>
</g>
<g id="panelF">
<text x="39.1" y="274.4" font-size="12.4" font-weight="bold" text-anchor="start" fill="#000">F</text>
<path d="M71.9,280.4 V377.6 H226.1" fill="none" stroke="#1e1e1e" stroke-width="1.2"/>
<path d="M68.7,281.50 H71.9" stroke="#1e1e1e" stroke-width="1.05"/>
<text x="68.10000000000001" y="283.5" font-size="5.6" font-weight="bold" text-anchor="end" fill="#111">2,500</text>
<path d="M68.7,300.72 H71.9" stroke="#1e1e1e" stroke-width="1.05"/>
<text x="68.10000000000001" y="302.72" font-size="5.6" font-weight="bold" text-anchor="end" fill="#111">2,000</text>
<path d="M68.7,319.94 H71.9" stroke="#1e1e1e" stroke-width="1.05"/>
<text x="68.10000000000001" y="321.94" font-size="5.6" font-weight="bold" text-anchor="end" fill="#111">1,500</text>
<path d="M68.7,339.16 H71.9" stroke="#1e1e1e" stroke-width="1.05"/>
<text x="68.10000000000001" y="341.16" font-size="5.6" font-weight="bold" text-anchor="end" fill="#111">1,000</text>
<path d="M68.7,358.38 H71.9" stroke="#1e1e1e" stroke-width="1.05"/>
<text x="68.10000000000001" y="360.38" font-size="5.6" font-weight="bold" text-anchor="end" fill="#111">500</text>
<path d="M68.7,377.60 H71.9" stroke="#1e1e1e" stroke-width="1.05"/>
<text x="68.10000000000001" y="379.6" font-size="5.6" font-weight="bold" text-anchor="end" fill="#111">0</text>
<path d="M81.4,377.6 V380.70000000000005" stroke="#1e1e1e" stroke-width="1.05"/>
<text x="84.4" y="388.0" font-size="5.7" font-weight="bold" text-anchor="end" fill="#111" transform="rotate(-42 84.4 388.0)">Day 7</text>
<path d="M98.5,377.6 V380.70000000000005" stroke="#1e1e1e" stroke-width="1.05"/>
<text x="101.5" y="388.0" font-size="5.7" font-weight="bold" text-anchor="end" fill="#111" transform="rotate(-42 101.5 388.0)">Day 11</text>
<path d="M115.6,377.6 V380.70000000000005" stroke="#1e1e1e" stroke-width="1.05"/>
<text x="118.6" y="388.0" font-size="5.7" font-weight="bold" text-anchor="end" fill="#111" transform="rotate(-42 118.6 388.0)">Day 13</text>
<path d="M132.6,377.6 V380.70000000000005" stroke="#1e1e1e" stroke-width="1.05"/>
<text x="135.6" y="388.0" font-size="5.7" font-weight="bold" text-anchor="end" fill="#111" transform="rotate(-42 135.6 388.0)">Day 15</text>
<path d="M149.7,377.6 V380.70000000000005" stroke="#1e1e1e" stroke-width="1.05"/>
<text x="152.7" y="388.0" font-size="5.7" font-weight="bold" text-anchor="end" fill="#111" transform="rotate(-42 152.7 388.0)">Day 19</text>
<path d="M166.8,377.6 V380.70000000000005" stroke="#1e1e1e" stroke-width="1.05"/>
<text x="169.8" y="388.0" font-size="5.7" font-weight="bold" text-anchor="end" fill="#111" transform="rotate(-42 169.8 388.0)">Day 22</text>
<path d="M183.8,377.6 V380.70000000000005" stroke="#1e1e1e" stroke-width="1.05"/>
<text x="186.8" y="388.0" font-size="5.7" font-weight="bold" text-anchor="end" fill="#111" transform="rotate(-42 186.8 388.0)">Day 27</text>
<path d="M200.9,377.6 V380.70000000000005" stroke="#1e1e1e" stroke-width="1.05"/>
<text x="203.9" y="388.0" font-size="5.7" font-weight="bold" text-anchor="end" fill="#111" transform="rotate(-42 203.9 388.0)">Day 29</text>
<path d="M218.0,377.6 V380.70000000000005" stroke="#1e1e1e" stroke-width="1.05"/>
<text x="221.0" y="388.0" font-size="5.7" font-weight="bold" text-anchor="end" fill="#111" transform="rotate(-42 221.0 388.0)">Day 33</text>
<text x="49.6" y="330.6" font-size="7.55" font-weight="bold" text-anchor="middle" fill="#111" transform="rotate(-90 49.6 330.6)">Tumor size (mm<tspan dy="-2.8" font-size="5">3</tspan><tspan dy="2.8">)</tspan></text>
<polyline points="98.5,376.64 115.6,375.49 132.6,373.18 149.7,362.8 166.8,348.96 183.8,342.43 200.9,326.47 218.0,304.37" fill="none" stroke="#e6392f" stroke-width="1.25"/>
<path d="M98.5,374.64 L100.4,377.94 L96.6,377.94 Z" fill="#e6392f"/>
<path d="M115.6,373.49 L117.5,376.79 L113.7,376.79 Z" fill="#e6392f"/>
<path d="M132.6,371.18 L134.5,374.48 L130.7,374.48 Z" fill="#e6392f"/>
<path d="M149.7,362.8 V359.73 M147.1,359.73 H152.3" stroke="#1a1a1a" stroke-width="1.0" fill="none"/>
<path d="M149.7,360.8 L151.6,364.1 L147.8,364.1 Z" fill="#e6392f"/>
<path d="M166.8,348.96 V343.2 M164.2,343.2 H169.4" stroke="#1a1a1a" stroke-width="1.0" fill="none"/>
<path d="M166.8,346.96 L168.7,350.26 L164.9,350.26 Z" fill="#e6392f"/>
<path d="M183.8,342.43 V335.12 M181.2,335.12 H186.4" stroke="#1a1a1a" stroke-width="1.0" fill="none"/>
<path d="M183.8,340.43 L185.8,343.73 L181.9,343.73 Z" fill="#e6392f"/>
<path d="M200.9,326.47 V313.02 M198.3,313.02 H203.5" stroke="#1a1a1a" stroke-width="1.0" fill="none"/>
<path d="M200.9,324.47 L202.8,327.77000000000004 L199.0,327.77000000000004 Z" fill="#e6392f"/>
<path d="M218.0,302.37 L219.9,305.67 L216.1,305.67 Z" fill="#e6392f"/>
<polyline points="81.4,372.99 98.5,357.42 115.6,352.04 132.6,321.67" fill="none" stroke="#1c2a96" stroke-width="1.25"/>
<rect x="79.6" y="371.19" width="3.6" height="3.6" fill="#1c2a96"/>
<path d="M98.5,357.42 V353.19 M95.9,353.19 H101.1" stroke="#141c50" stroke-width="1.0" fill="none"/>
<rect x="96.7" y="355.62" width="3.6" height="3.6" fill="#1c2a96"/>
<path d="M115.6,352.04 V345.69 M113.0,345.69 H118.2" stroke="#141c50" stroke-width="1.0" fill="none"/>
<rect x="113.8" y="350.24" width="3.6" height="3.6" fill="#1c2a96"/>
<path d="M132.6,321.67 V318.4 M130.0,318.4 H135.2" stroke="#141c50" stroke-width="1.0" fill="none"/>
<rect x="130.8" y="319.87" width="3.6" height="3.6" fill="#1c2a96"/>
<path d="M85,284.5 H95.2" stroke="#1c2a96" stroke-width="1.1"/><rect x="88.4" y="282.7" width="3.6" height="3.6" fill="#1c2a96"/>
<path d="M85,295.6 H95.2" stroke="#e6392f" stroke-width="1.1"/><path d="M90.2,293.7 L92,296.8 L88.4,296.8 Z" fill="#e6392f"/>
<text x="98.9" y="287.2" font-size="6.4" text-anchor="start" fill="#111" stroke="#111" stroke-width="0.1">ADCCS1</text>
<text x="98.9" y="298.1" font-size="6.4" text-anchor="start" fill="#111" stroke="#111" stroke-width="0.1">ADCCR1</text>
<text x="81.97" y="363.31" font-size="8.2" font-weight="bold" text-anchor="middle" fill="#1c1c1c" letter-spacing="0.35">*</text>
<text x="94.77" y="344.11" font-size="8.2" font-weight="bold" text-anchor="middle" fill="#1c1c1c" letter-spacing="0.35">**</text>
<text x="112.67" y="344.11" font-size="8.2" font-weight="bold" text-anchor="middle" fill="#1c1c1c" letter-spacing="0.35">*</text>
<text x="133.08" y="318.51" font-size="8.2" font-weight="bold" text-anchor="middle" fill="#1c1c1c" letter-spacing="0.35">***</text>
</g>
<g id="panelG">
<text x="289.4" y="274.5" font-size="12.4" font-weight="bold" text-anchor="start" fill="#000">G</text>
<path d="M326.4,296.6 V401" fill="none" stroke="#1a1a1a" stroke-width="1.2"/>
<path d="M323.0,297.06 H326.4" stroke="#1a1a1a" stroke-width="1.05"/>
<text x="322.59999999999997" y="299.31" font-size="6.3" text-anchor="end" fill="#111" stroke="#111" stroke-width="0.15">80</text>
<path d="M323.0,317.82 H326.4" stroke="#1a1a1a" stroke-width="1.05"/>
<text x="322.59999999999997" y="320.07" font-size="6.3" text-anchor="end" fill="#111" stroke="#111" stroke-width="0.15">60</text>
<path d="M323.0,338.58 H326.4" stroke="#1a1a1a" stroke-width="1.05"/>
<text x="322.59999999999997" y="340.83" font-size="6.3" text-anchor="end" fill="#111" stroke="#111" stroke-width="0.15">40</text>
<path d="M323.0,359.34 H326.4" stroke="#1a1a1a" stroke-width="1.05"/>
<text x="322.59999999999997" y="361.59" font-size="6.3" text-anchor="end" fill="#111" stroke="#111" stroke-width="0.15">20</text>
<path d="M323.0,380.10 H326.4" stroke="#1a1a1a" stroke-width="1.05"/>
<text x="322.59999999999997" y="382.35" font-size="6.3" text-anchor="end" fill="#111" stroke="#111" stroke-width="0.15">0</text>
<path d="M323.0,400.86 H326.4" stroke="#1a1a1a" stroke-width="1.05"/>
<text x="322.59999999999997" y="403.11" font-size="6.3" text-anchor="end" fill="#111" stroke="#111" stroke-width="0.15">-20</text>
<text x="308.2" y="346.5" font-size="7.6" text-anchor="middle" fill="#111" transform="rotate(-90 308.2 346.5)" stroke="#111" stroke-width="0.1">Specific lysis (%)</text>
<rect x="330.8" y="380.1" width="16.0" height="3.84" fill="url(#p1)" stroke="#0c0c0c" stroke-width="1.4"/>
<path d="M338.8,380.1 V382.70000000000005" stroke="#1a1a1a" stroke-width="1"/>
<text x="340.4" y="390.3" font-size="6.35" text-anchor="end" fill="#111" transform="rotate(-40 340.4 390.3)" stroke="#111" stroke-width="0.12">R1</text>
<path d="M362.4,367.54 V366.19 M357.8,366.19 H367.0" stroke="#111" stroke-width="1.1" fill="none"/>
<rect x="354.4" y="367.54" width="16.0" height="12.56" fill="url(#p2)" stroke="#0c0c0c" stroke-width="1.4"/>
<path d="M362.4,380.1 V382.70000000000005" stroke="#1a1a1a" stroke-width="1"/>
<text x="365.0" y="390.3" font-size="6.35" text-anchor="end" fill="#111" transform="rotate(-40 365.0 390.3)" stroke="#111" stroke-width="0.12">R1 (10% S)</text>
<path d="M385.9,356.43 V351.56 M381.3,351.56 H390.5" stroke="#111" stroke-width="1.1" fill="none"/>
<rect x="377.9" y="356.43" width="16.0" height="23.67" fill="url(#p3)" stroke="#0c0c0c" stroke-width="1.4"/>
<path d="M385.9,380.1 V382.70000000000005" stroke="#1a1a1a" stroke-width="1"/>
<text x="388.5" y="390.3" font-size="6.35" text-anchor="end" fill="#111" transform="rotate(-40 388.5 390.3)" stroke="#111" stroke-width="0.12">R1 (25% S)</text>
<path d="M409.5,346.47 V344.81 M404.9,344.81 H414.1" stroke="#111" stroke-width="1.1" fill="none"/>
<rect x="401.5" y="346.47" width="16.0" height="33.63" fill="url(#p4)" stroke="#0c0c0c" stroke-width="1.4"/>
<path d="M409.5,380.1 V382.70000000000005" stroke="#1a1a1a" stroke-width="1"/>
<text x="412.1" y="390.3" font-size="6.35" text-anchor="end" fill="#111" transform="rotate(-40 412.1 390.3)" stroke="#111" stroke-width="0.12">R1 (50% S)</text>
<path d="M433.0,320.52 V314.5 M428.4,314.5 H437.6" stroke="#111" stroke-width="1.1" fill="none"/>
<rect x="425.0" y="320.52" width="16.0" height="59.58" fill="url(#p5)" stroke="#0c0c0c" stroke-width="1.4"/>
<path d="M433.0,380.1 V382.70000000000005" stroke="#1a1a1a" stroke-width="1"/>
<text x="435.6" y="390.3" font-size="6.35" text-anchor="end" fill="#111" transform="rotate(-40 435.6 390.3)" stroke="#111" stroke-width="0.12">R1(75% S)</text>
<path d="M456.6,335.57 V330.59 M451.9,330.59 H461.2" stroke="#111" stroke-width="1.1" fill="none"/>
<rect x="448.6" y="335.57" width="16.0" height="44.53" fill="url(#p6)" stroke="#0c0c0c" stroke-width="1.4"/>
<path d="M456.6,380.1 V382.70000000000005" stroke="#1a1a1a" stroke-width="1"/>
<text x="460.2" y="390.3" font-size="6.35" text-anchor="end" fill="#111" transform="rotate(-40 460.2 390.3)" stroke="#111" stroke-width="0.12">ADCCS1</text>
<path d="M480.1,322.59 V318.03 M475.5,318.03 H484.7" stroke="#111" stroke-width="1.1" fill="none"/>
<rect x="472.1" y="322.59" width="16.0" height="57.51" fill="url(#p7)" stroke="#0c0c0c" stroke-width="1.4"/>
<path d="M480.1,380.1 V382.70000000000005" stroke="#1a1a1a" stroke-width="1"/>
<text x="482.0" y="390.3" font-size="6.35" text-anchor="end" fill="#111" transform="rotate(-40 482.0 390.3)" stroke="#111" stroke-width="0.12">ADCCS1 (R1 media)</text>
<rect x="495.6" y="374.08" width="16.0" height="6.02" fill="url(#p8)" stroke="#0c0c0c" stroke-width="1.4"/>
<path d="M503.6,380.1 V382.70000000000005" stroke="#1a1a1a" stroke-width="1"/>
<text x="503.8" y="390.3" font-size="6.35" text-anchor="end" fill="#111" transform="rotate(-40 503.8 390.3)" stroke="#111" stroke-width="0.12">R1 (S media)</text>
<path d="M326.4,380.1 H515" fill="none" stroke="#1a1a1a" stroke-width="1.2"/>
</g>
</g>
</svg>
</body>
</html>
